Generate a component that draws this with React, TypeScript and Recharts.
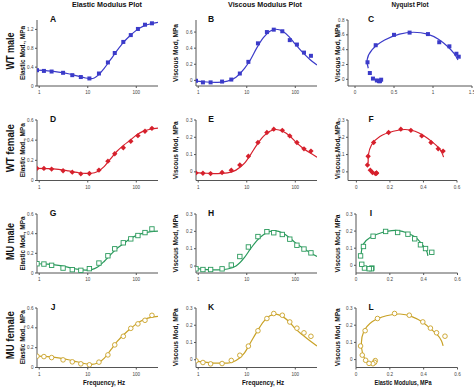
import React from 'react';
import { ComposedChart, Line, Scatter, XAxis, YAxis } from 'recharts';

// measurement frequencies (Hz) and the frequencies where the fitted curve was read
const freq = [0.9, 1.25, 1.8, 3.1, 4.8, 7.2, 10.8, 17, 26, 36, 54, 77, 108, 151, 210];
const fitFreq = [0.9, 1.5, 2.5, 4, 6, 9, 12, 16, 22, 30, 40, 55, 75, 100, 140, 200, 280];

// WT male
const wtMaleElastic = [0.335, 0.32, 0.307, 0.28, 0.23, 0.19, 0.16, 0.265, 0.5, 0.7, 0.935, 1.08, 1.21, 1.3, 1.33];
const wtMaleViscous = [-0.005, -0.025, -0.025, -0.015, 0.01, 0.085, 0.23, 0.46, 0.6, 0.63, 0.61, 0.5, 0.445, 0.345, 0.305];
const wtMaleFitElastic = [0.335, 0.32, 0.295, 0.26, 0.215, 0.17, 0.155, 0.22, 0.38, 0.57, 0.75, 0.93, 1.07, 1.18, 1.27, 1.32, 1.35];
const wtMaleFitViscous = [-0.01, -0.02, -0.025, -0.01, 0.04, 0.15, 0.26, 0.4, 0.53, 0.61, 0.635, 0.61, 0.54, 0.45, 0.35, 0.26, 0.19];

// WT female
const wtFemaleElastic = [0.12, 0.12, 0.113, 0.096, 0.083, 0.066, 0.07, 0.103, 0.192, 0.265, 0.325, 0.39, 0.445, 0.488, 0.517];
const wtFemaleViscous = [-0.006, -0.008, -0.01, -0.004, 0.01, 0.04, 0.09, 0.17, 0.228, 0.247, 0.24, 0.208, 0.17, 0.133, 0.12];
const wtFemaleFitElastic = [0.12, 0.118, 0.11, 0.095, 0.08, 0.07, 0.072, 0.09, 0.14, 0.22, 0.29, 0.35, 0.4, 0.45, 0.49, 0.51, 0.52];
const wtFemaleFitViscous = [-0.005, -0.008, -0.01, -0.006, 0.01, 0.05, 0.1, 0.155, 0.205, 0.235, 0.245, 0.235, 0.21, 0.175, 0.14, 0.11, 0.085];

// MU male
const muMaleElastic = [0.094, 0.091, 0.078, 0.05, 0.034, 0.027, 0.044, 0.101, 0.175, 0.246, 0.307, 0.347, 0.381, 0.411, 0.448];
const muMaleViscous = [-0.016, -0.02, -0.02, -0.016, 0.006, 0.055, 0.11, 0.17, 0.198, 0.192, 0.182, 0.155, 0.12, 0.098, 0.076];
const muMaleFitElastic = [0.094, 0.09, 0.077, 0.058, 0.04, 0.03, 0.035, 0.06, 0.12, 0.19, 0.25, 0.3, 0.35, 0.38, 0.405, 0.42, 0.425];
const muMaleFitViscous = [-0.015, -0.02, -0.022, -0.017, 0, 0.05, 0.1, 0.145, 0.18, 0.2, 0.203, 0.19, 0.165, 0.135, 0.105, 0.078, 0.055];

// MU female
const muFemaleElastic = [0.114, 0.11, 0.1, 0.077, 0.057, 0.037, 0.027, 0.054, 0.127, 0.228, 0.315, 0.395, 0.44, 0.476, 0.526];
const muFemaleViscous = [-0.006, -0.016, -0.024, -0.022, -0.004, 0.026, 0.079, 0.168, 0.239, 0.268, 0.258, 0.219, 0.183, 0.156, 0.136];
const muFemaleFitElastic = [0.115, 0.11, 0.097, 0.078, 0.058, 0.038, 0.032, 0.045, 0.095, 0.18, 0.26, 0.33, 0.39, 0.44, 0.48, 0.505, 0.515];
const muFemaleFitViscous = [-0.008, -0.015, -0.02, -0.02, -0.005, 0.04, 0.1, 0.16, 0.22, 0.255, 0.265, 0.25, 0.22, 0.18, 0.145, 0.11, 0.08];

const freqTicks = [1, 10, 100];

type Pt = { x: number; y: number };
const zip = (xs: number[], ys: number[]): Pt[] => xs.map((x, i) => ({ x, y: ys[i] }));

const FONT = '"Liberation Sans", Arial, sans-serif';
const AXIS = '#555';

type Marker = 'square' | 'diamond' | 'openSquare' | 'openCircle';

const makeShape = (kind: Marker, color: string) => (p: any) => {
  const { cx, cy } = p;
  if (cx == null || cy == null) return <g />;
  if (kind === 'square') return <rect x={cx - 2} y={cy - 2} width={4} height={4} fill={color} />;
  if (kind === 'diamond')
    return <polygon points={`${cx},${cy - 2.7} ${cx + 2.7},${cy} ${cx},${cy + 2.7} ${cx - 2.7},${cy}`} fill={color} />;
  if (kind === 'openSquare')
    return <rect x={cx - 2.2} y={cy - 2.2} width={4.4} height={4.4} fill="#fff" stroke={color} strokeWidth={0.9} />;
  return <circle cx={cx} cy={cy} r={2.3} fill="#fff" stroke={color} strokeWidth={0.9} />;
};

interface PanelProps {
  left: number;
  top: number;
  right: number;
  bottom: number;
  log?: boolean;
  xDomain: [number, number];
  xTicks: number[];
  yDomain: [number, number];
  yTicks: number[];
  points: Pt[];
  fit: Pt[];
  color: string;
  marker: Marker;
}

const YW = 30;
const XH = 16;
const PT = 6;
const PR = 6;

const Panel: React.FC<PanelProps> = ({ left, top, right, bottom, log, xDomain, xTicks, yDomain, yTicks, points, fit, color, marker }) => {
  const width = right - left + YW + PR;
  const height = bottom - top + PT + XH;
  const tick = { fontSize: 4.6, fill: '#444', fontFamily: FONT };
  return (
    <div style={{ position: 'absolute', left: left - YW, top: top - PT }}>
      <ComposedChart width={width} height={height} margin={{ top: PT, right: PR, bottom: 0, left: 0 }}>
        <XAxis
          dataKey="x"
          type="number"
          scale={log ? 'log' : 'linear'}
          domain={xDomain}
          ticks={xTicks}
          allowDataOverflow
          height={XH}
          tick={tick}
          tickSize={2}
          tickMargin={3}
          axisLine={{ stroke: AXIS }}
          tickLine={{ stroke: AXIS }}
          interval={0}
        />
        <YAxis
          dataKey="y"
          type="number"
          domain={yDomain}
          ticks={yTicks}
          allowDataOverflow
          width={YW}
          tick={tick}
          tickSize={2}
          tickMargin={1.5}
          axisLine={{ stroke: AXIS }}
          tickLine={{ stroke: AXIS }}
          interval={0}
        />
        <Line
          data={fit}
          dataKey="y"
          type={log ? 'monotone' : 'natural'}
          stroke={color}
          strokeWidth={1.2}
          dot={false}
          activeDot={false}
          isAnimationActive={false}
        />
        <Scatter data={points} dataKey="y" shape={makeShape(marker, color)} isAnimationActive={false} />
      </ComposedChart>
    </div>
  );
};

interface Group {
  label: string;
  color: string;
  marker: Marker;
  elastic: number[];
  viscous: number[];
  fitElastic: number[];
  fitViscous: number[];
  top: number;
  bottom: number;
  elasticDomain: [number, number];
  elasticTicks: number[];
  viscousDomain: [number, number];
  viscousTicks: number[];
  nyqLeft: number;
  nyqRight: number;
  nyqX: [number, number];
  nyqXTicks: number[];
  nyqY: [number, number];
  nyqYTicks: number[];
  fitFrom: number;
  fitTo: number;
  letters: string[];
}

const groups: Group[] = [
  {
    label: 'WT male', color: '#3b3bc9', marker: 'square',
    elastic: wtMaleElastic, viscous: wtMaleViscous, fitElastic: wtMaleFitElastic, fitViscous: wtMaleFitViscous,
    top: 20, bottom: 86,
    elasticDomain: [0, 1.4], elasticTicks: [0, 0.4, 0.8, 1.2],
    viscousDomain: [-0.07, 0.75], viscousTicks: [0, 0.2, 0.4, 0.6],
    nyqLeft: 348, nyqRight: 472, nyqX: [-0.09, 1.5], nyqXTicks: [0, 0.5, 1, 1.5],
    nyqY: [-0.09, 0.8], nyqYTicks: [0, 0.2, 0.4, 0.6, 0.8],
    fitFrom: 5, fitTo: 16, letters: ['A', 'B', 'C'],
  },
  {
    label: 'WT female', color: '#d6202c', marker: 'diamond',
    elastic: wtFemaleElastic, viscous: wtFemaleViscous, fitElastic: wtFemaleFitElastic, fitViscous: wtFemaleFitViscous,
    top: 120, bottom: 180.5,
    elasticDomain: [0, 0.6], elasticTicks: [0, 0.2, 0.4, 0.6],
    viscousDomain: [-0.05, 0.3], viscousTicks: [0, 0.1, 0.2, 0.3],
    nyqLeft: 348, nyqRight: 457, nyqX: [-0.05, 0.6], nyqXTicks: [0, 0.2, 0.4, 0.6],
    nyqY: [-0.05, 0.3], nyqYTicks: [0, 0.1, 0.2, 0.3],
    fitFrom: 5, fitTo: 17, letters: ['D', 'E', 'F'],
  },
  {
    label: 'MU male', color: '#2a9a5c', marker: 'openSquare',
    elastic: muMaleElastic, viscous: muMaleViscous, fitElastic: muMaleFitElastic, fitViscous: muMaleFitViscous,
    top: 214, bottom: 273,
    elasticDomain: [0, 0.6], elasticTicks: [0, 0.2, 0.4, 0.6],
    viscousDomain: [-0.04, 0.3], viscousTicks: [0, 0.1, 0.2, 0.3],
    nyqLeft: 355.5, nyqRight: 457, nyqX: [0, 0.6], nyqXTicks: [0, 0.2, 0.4, 0.6],
    nyqY: [-0.045, 0.3], nyqYTicks: [0, 0.1, 0.2, 0.3],
    fitFrom: 5, fitTo: 17, letters: ['G', 'H', 'I'],
  },
  {
    label: 'MU female', color: '#c9a227', marker: 'openCircle',
    elastic: muFemaleElastic, viscous: muFemaleViscous, fitElastic: muFemaleFitElastic, fitViscous: muFemaleFitViscous,
    top: 307.5, bottom: 367,
    elasticDomain: [0, 0.6], elasticTicks: [0, 0.2, 0.4, 0.6],
    viscousDomain: [-0.045, 0.3], viscousTicks: [0, 0.1, 0.2, 0.3],
    nyqLeft: 355.5, nyqRight: 457, nyqX: [0, 0.6], nyqXTicks: [0, 0.2, 0.4, 0.6],
    nyqY: [-0.046, 0.3], nyqYTicks: [0, 0.1, 0.2, 0.3],
    fitFrom: 0, fitTo: 17, letters: ['J', 'K', 'L'],
  },
];

const COL1 = [37, 158];
const COL2 = [196, 317];
const FREQ_DOMAIN: [number, number] = [0.9, 280];

const Txt: React.FC<{ x: number; y: number; size: number; len?: number; rotate?: boolean; children: string }> = ({ x, y, size, len, rotate, children }) => (
  <text
    x={x}
    y={y}
    fontSize={size}
    fontWeight="bold"
    fontFamily={FONT}
    textAnchor="middle"
    dominantBaseline="central"
    fill="#111"
    textLength={len}
    lengthAdjust={len ? 'spacingAndGlyphs' : undefined}
    transform={rotate ? `rotate(-90 ${x} ${y})` : undefined}
  >
    {children}
  </text>
);

const App: React.FC = () => {
  return (
    <div style={{ position: 'absolute', left: 0, top: 0, width: 474, height: 387, background: '#fff', overflow: 'hidden', fontFamily: FONT }}>
      {groups.map(g => (
        <React.Fragment key={g.label}>
          <Panel
            left={COL1[0]} right={COL1[1]} top={g.top} bottom={g.bottom}
            log xDomain={FREQ_DOMAIN} xTicks={freqTicks}
            yDomain={g.elasticDomain} yTicks={g.elasticTicks}
            points={zip(freq, g.elastic)} fit={zip(fitFreq, g.fitElastic)}
            color={g.color} marker={g.marker}
          />
          <Panel
            left={COL2[0]} right={COL2[1]} top={g.top} bottom={g.bottom}
            log xDomain={FREQ_DOMAIN} xTicks={freqTicks}
            yDomain={g.viscousDomain} yTicks={g.viscousTicks}
            points={zip(freq, g.viscous)} fit={zip(fitFreq, g.fitViscous)}
            color={g.color} marker={g.marker}
          />
          <Panel
            left={g.nyqLeft} right={g.nyqRight} top={g.top} bottom={g.bottom}
            xDomain={g.nyqX} xTicks={g.nyqXTicks}
            yDomain={g.nyqY} yTicks={g.nyqYTicks}
            points={zip(g.elastic, g.viscous)}
            fit={zip(g.fitElastic.slice(g.fitFrom, g.fitTo), g.fitViscous.slice(g.fitFrom, g.fitTo))}
            color={g.color} marker={g.marker}
          />
        </React.Fragment>
      ))}
      <svg width={474} height={387} style={{ position: 'absolute', left: 0, top: 0, pointerEvents: 'none' }}>
        <Txt x={107} y={4} size={8} len={70}>Elastic Modulus Plot</Txt>
        <Txt x={265} y={4} size={8} len={74}>Viscous Modulus Plot</Txt>
        <Txt x={410} y={4} size={8} len={37}>Nyquist Plot</Txt>
        {groups.map(g => {
          const mid = (g.top + g.bottom) / 2;
          const short = !g.label.endsWith('female');
          return (
            <React.Fragment key={g.label}>
              <Txt x={10} y={mid - 2} size={10} len={short ? 37 : 48} rotate>{g.label}</Txt>
              <Txt x={22} y={mid} size={6.3} len={54} rotate>Elastic Mod., MPa</Txt>
              <Txt x={175.5} y={mid} size={6.8} len={58} rotate>Viscous Mod, MPa</Txt>
              <Txt x={337.5} y={mid} size={6.8} len={58} rotate>Viscous Mod, MPa</Txt>
              <Txt x={53} y={g.top - 1} size={8.5}>{g.letters[0]}</Txt>
              <Txt x={211} y={g.top - 1} size={8.5}>{g.letters[1]}</Txt>
              <Txt x={371} y={g.top - 1} size={8.5}>{g.letters[2]}</Txt>
            </React.Fragment>
          );
        })}
        <Txt x={104} y={382} size={7.5} len={42}>Frequency, Hz</Txt>
        <Txt x={263} y={382} size={7.5} len={42}>Frequency, Hz</Txt>
        <Txt x={403} y={382} size={7.5} len={57}>Elastic Modulus, MPa</Txt>
      </svg>
    </div>
  );
};

export default App;
